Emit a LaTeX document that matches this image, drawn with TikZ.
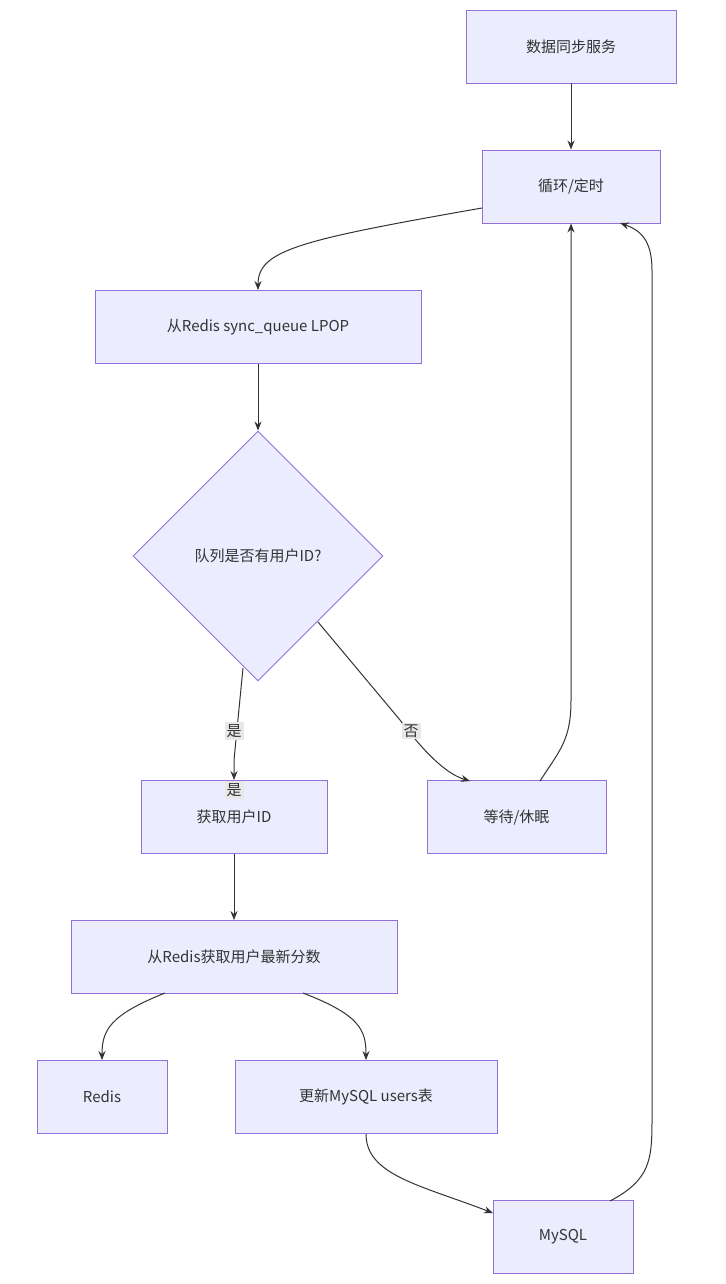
\documentclass[tikz,border=0pt]{standalone}
\usepackage{fontspec}
\setmainfont{Noto Sans CJK SC}
\usetikzlibrary{arrows.meta,shapes.geometric}
\definecolor{nfill}{HTML}{ECECFF}
\definecolor{nstroke}{HTML}{9370DB}
\definecolor{lnk}{HTML}{333333}
\definecolor{lbl}{HTML}{E8E8E8}
\begin{document}
\begin{tikzpicture}[x=1pt,y=-1pt,
  box/.style={draw=nstroke,fill=nfill,line width=0.9pt,minimum height=73pt,inner sep=0pt,font=\fontsize{15}{18}\selectfont,text=lnk},
  dia/.style={diamond,draw=nstroke,fill=nfill,line width=0.9pt,minimum width=250pt,minimum height=250pt,inner sep=0pt,font=\fontsize{15}{18}\selectfont,text=lnk},
  edge/.style={draw=lnk,line width=1pt,-{Stealth[length=9pt,width=7pt]}},
  elab/.style={fill=lbl,font=\fontsize{15}{18}\selectfont,text=lnk,inner sep=2pt}]
\useasboundingbox (0,0) rectangle (725,1284);
\fill[white] (0,0) rectangle (725,1284);
\node[box,minimum width=210pt] (a) at (571,46.5) {数据同步服务};
\node[box,minimum width=178pt] (b) at (571,186.5) {循环/定时};
\node[box,minimum width=326pt] (c) at (258,327) {从Redis sync\_queue LPOP};
\node[dia] (d) at (258,556) {队列是否有用户ID?};
\node[box,minimum width=186pt] (e) at (234,817) {获取用户ID};
\node[box,minimum width=179pt] (f) at (516.5,817) {等待/休眠};
\node[box,minimum width=326pt] (g) at (234,957) {从Redis获取用户最新分数};
\node[box,minimum width=130pt] (h) at (102,1097) {Redis};
\node[box,minimum width=262pt] (i) at (366,1097) {更新MySQL users表};
\node[box,minimum width=140pt] (j) at (563,1237) {MySQL};
\coordinate (bc) at (482,208);
\coordinate (bt) at (620,223);
\draw[edge] (a) -- (b);
\draw[edge] (bc) .. controls (300,240) and (258,250) .. (c.north);
\draw[edge] (c) -- (d);
\draw[edge] (243,668) -- (234,760) -- (e.north) node[pos=0,elab,yshift=-30pt] {是};
\node[elab] at (234,731) {是};
\draw[edge] (318,622) -- (400,720) .. controls (430,760) and (450,775) .. (470,781);
\node[elab] at (411,731) {否};
\draw[edge] (540,781) .. controls (560,750) and (571,740) .. (571,700) -- (b.south);
\draw[edge] (e) -- (g);
\draw[edge] (165,993) .. controls (110,1015) and (102,1030) .. (h.north);
\draw[edge] (303,993) .. controls (360,1015) and (366,1030) .. (i.north);
\draw[edge] (i.south) .. controls (366,1175) and (420,1185) .. (493,1213);
\draw[edge] (610,1201) .. controls (650,1180) and (652,1160) .. (652,1120) -- (652,270) .. controls (652,240) and (640,230) .. (bt);
\end{tikzpicture}
\end{document}
